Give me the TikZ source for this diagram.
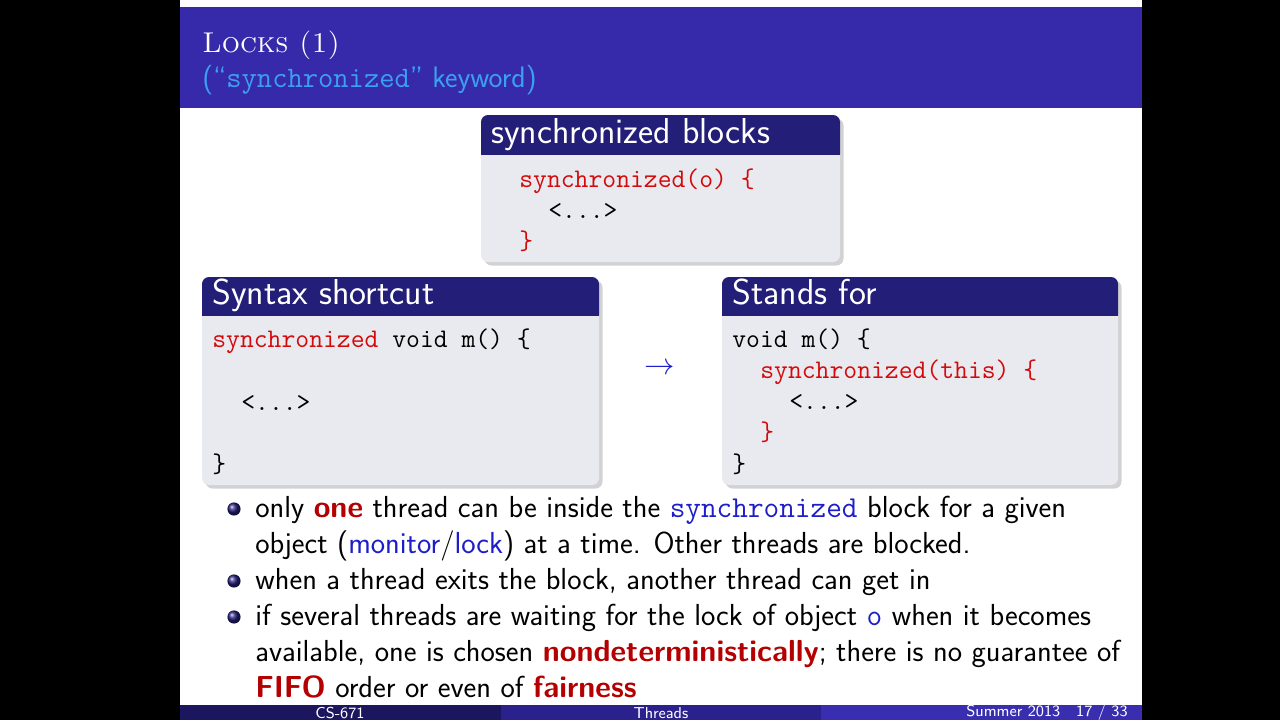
\documentclass[tikz,border=0pt]{standalone}
\usetikzlibrary{shadows}
\definecolor{barblue}{RGB}{54,42,170}
\definecolor{navy}{RGB}{35,30,120}
\definecolor{bodygray}{RGB}{233,233,240}
\definecolor{codered}{RGB}{210,10,10}
\definecolor{boldred}{RGB}{180,0,0}
\definecolor{sub}{RGB}{60,160,240}
\definecolor{lnk}{RGB}{30,30,200}
\definecolor{fa}{RGB}{28,22,95}
\definecolor{fb}{RGB}{42,33,140}
\definecolor{fc}{RGB}{56,46,175}
\begin{document}
\begin{tikzpicture}[x=0.02cm,y=-0.02cm,
  txt/.style={anchor=base west,inner sep=0,font=\sffamily\fontsize{17.3}{20}\selectfont},
  code/.style={anchor=base west,inner sep=0,font=\ttfamily\fontsize{15.3}{18}\selectfont},
  btitle/.style={anchor=base west,inner sep=0,text=white,font=\sffamily\fontsize{20.5}{23}\selectfont},
  bul/.style={circle,inner sep=0,minimum size=7.5pt,shading=ball,ball color=navy}]
\useasboundingbox (0,0) rectangle (1280,720);
\fill[black] (0,0) rectangle (1280,720);
\fill[white] (180,0) rectangle (1142,705);
\fill[barblue] (180,7) rectangle (1142,108);
\node[anchor=base west,inner sep=0,text=white,font=\fontsize{16.3}{19}\selectfont\scshape] (t1) at (202,52) {Locks (1)};
\node[anchor=base west,inner sep=0,text=sub,font=\sffamily\fontsize{16.9}{20}\selectfont] (t2) at (202,87) {(``{\ttfamily synchronized}'' keyword)};
% footer
\fill[fa] (180,705) rectangle (501,720);
\fill[fb] (501,705) rectangle (821,720);
\fill[fc] (821,705) rectangle (1142,720);
\node[text=white,inner sep=0,font=\sffamily\fontsize{9}{10}\selectfont] (f1) at (340,713) {CS-671};
\node[text=white,inner sep=0,font=\sffamily\fontsize{9}{10}\selectfont] (f2) at (661,713) {Threads};
\node[text=white,inner sep=0,font=\sffamily\fontsize{9}{10}\selectfont] (f3) at (1047,713) {Summer 2013\quad 17 / 33};
% blocks
\foreach \a/\b/\c/\d/\e in {481/115/840/155/262, 202/277/599/316/485, 722/277/1118/316/485}{
  \fill[bodygray,rounded corners=4pt,drop shadow={shadow xshift=2pt,shadow yshift=-2pt,opacity=.35}] (\a,\b) rectangle (\c,\e);
  \fill[navy,rounded corners=4pt] (\a,\b) rectangle (\c,\d+6);
  \fill[bodygray] (\a,\d) rectangle (\c,\d+8);
}
\node[btitle] (b1) at (491,143) {synchronized blocks};
\node[code,text=codered] (c1) at (519,187) {synchronized(o) \{};
\node[code] (c2) at (548,218) {<...>};
\node[code,text=codered] (c3) at (519,249) {\}};
\node[btitle] (b2) at (212,304) {Syntax shortcut};
\node[code] (l1) at (212,347) {\textcolor{codered}{synchronized} void m() \{};
\node[code] (l2) at (241,410) {<...>};
\node[code] (l3) at (212,472) {\}};
\node[btitle] (b3) at (732,304) {Stands for};
\node[code] (r1) at (732,347) {void m() \{};
\node[code,text=codered] (r2) at (760,378) {synchronized(this) \{};
\node[code] (r3) at (789,409) {<...>};
\node[code,text=codered] (r4) at (760,440) {\}};
\node[code] (r5) at (732,472) {\}};
\node[inner sep=0,text=lnk,font=\fontsize{16}{18}\selectfont] (arr) at (660,369) {$\rightarrow$};
% bullets
\foreach \y in {509,581,617} \node[bul] at (234,\y) {};
\node[txt] (p1) at (255,517) {only \textcolor{boldred}{\bfseries one} thread can be inside the \textcolor{lnk}{\ttfamily synchronized} block for a given};
\node[txt] (p2) at (255,553) {object (\textcolor{lnk}{monitor}/\textcolor{lnk}{lock}) at a time. Other threads are blocked.};
\node[txt] (p3) at (255,589) {when a thread exits the block, another thread can get in};
\node[txt] (p4) at (255,625) {if several threads are waiting for the lock of object \textcolor{lnk}{\ttfamily o} when it becomes};
\node[txt] (p5) at (255,661) {available, one is chosen \textcolor{boldred}{\bfseries nondeterministically}; there is no guarantee of};
\node[txt] (p6) at (255,697) {\textcolor{boldred}{\bfseries FIFO} order or even of \textcolor{boldred}{\bfseries fairness}};
\end{tikzpicture}
\end{document}
